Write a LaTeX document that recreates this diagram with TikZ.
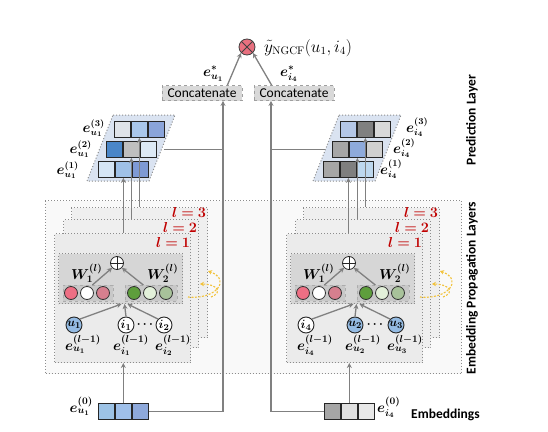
\documentclass[tikz,border=0pt]{standalone}
\usepackage{amsmath}
\usepackage{bm}
\usepackage[no-math]{fontspec}
\setmainfont{Carlito}
\usetikzlibrary{arrows.meta,calc}
\definecolor{cg}{HTML}{808080}
\definecolor{dotc}{HTML}{8C8C8C}
\definecolor{redc}{HTML}{E8707F}
\definecolor{lred}{HTML}{C00000}
\definecolor{parac}{HTML}{DAE3F1}
\definecolor{outerc}{HTML}{F9F9F9}
\definecolor{layc}{HTML}{EFEFEF}
\definecolor{lay1c}{HTML}{EBEBEB}
\definecolor{innc}{HTML}{D6D6D6}
\definecolor{grpc}{HTML}{C8C8C8}
\definecolor{cpink}{HTML}{EE6F84}
\definecolor{cmute}{HTML}{D67F8E}
\definecolor{cgreen}{HTML}{5E9E3C}
\definecolor{clgreen}{HTML}{E2F0D9}
\definecolor{cggreen}{HTML}{A8C29A}
\definecolor{ublue}{HTML}{94BBE3}
\definecolor{yel}{HTML}{F2C23A}
% cell colours
\definecolor{k1}{HTML}{DFE3E9}\definecolor{k2}{HTML}{A9C6EA}\definecolor{k3}{HTML}{8AA4DA}
\definecolor{k4}{HTML}{4A86C8}\definecolor{k5}{HTML}{BFBFBF}\definecolor{k6}{HTML}{DDE9F5}
\definecolor{k7}{HTML}{D5E5F5}\definecolor{k8}{HTML}{9FC1E8}\definecolor{k9}{HTML}{7E9AD5}
\definecolor{r1}{HTML}{B4C7E7}\definecolor{r2}{HTML}{808080}\definecolor{r3}{HTML}{D9D9D9}
\definecolor{r4}{HTML}{A6A6A6}\definecolor{r5}{HTML}{8EAADB}\definecolor{r6}{HTML}{D0D0D0}
\definecolor{r7}{HTML}{A6A6A6}\definecolor{r8}{HTML}{7F7F7F}\definecolor{r9}{HTML}{BDD7EE}
\definecolor{m1}{HTML}{9DC3E6}\definecolor{m2}{HTML}{9FC0EA}\definecolor{m3}{HTML}{8EA9DB}
\definecolor{n1}{HTML}{A6A6A6}\definecolor{n2}{HTML}{E0E0E0}\definecolor{n3}{HTML}{E8E8E8}
\newcommand\cellrow[6]{%
  \node[cell,fill=#4] (#1a) at (#2,#3) {};
  \node[cell,fill=#5,anchor=west] (#1b) at (#1a.east) {};
  \node[cell,fill=#6,anchor=west] (#1c) at (#1b.east) {};}
\begin{document}
\begin{tikzpicture}[x=1pt,y=-1pt,
  conn/.style={draw=cg,line width=1.3pt},
  arr/.style={conn,-{Stealth[length=5pt,width=5pt]}},
  yarr/.style={draw=yel,line width=1.1pt,dash pattern=on 2pt off 1.5pt,-{Stealth[length=4pt,width=4.5pt]}},
  cell/.style={draw=black!85,line width=0.9pt,minimum width=16pt,minimum height=16pt,inner sep=0,anchor=north west},
  mlab/.style={font=\fontsize{14}{16}\selectfont,inner sep=0},
  slab/.style={font=\fontsize{13.5}{15}\selectfont,inner sep=0},
  llab/.style={font=\fontsize{15}{17}\selectfont,inner sep=0,text=lred,anchor=base west},
  concat/.style={draw=gray!75,dashed,line width=0.8pt,fill=gray!30,font=\fontsize{13.5}{15}\selectfont,minimum width=80pt,minimum height=15pt,inner sep=1pt},
  dotbox/.style={draw=dotc,dotted,line width=1pt,anchor=north west,inner sep=0},
  grp/.style={draw=gray!65,dashed,line width=0.7pt,fill=grpc,anchor=north west,minimum width=#1,minimum height=16pt,inner sep=0},
  dot/.style={circle,draw=black!80,line width=0.8pt,minimum size=13pt,inner sep=0},
  gnode/.style={circle,draw=black!85,line width=0.9pt,minimum size=16pt,inner sep=0,font=\fontsize{12.5}{13}\selectfont},
  side/.style={font=\fontsize{13.5}{15}\selectfont\bfseries,inner sep=0}]
\useasboundingbox (0,0) rectangle (548,431);

% ---------- top ----------
\node[circle,draw=black!75,fill=redc,minimum size=16pt,inner sep=0,line width=0.8pt] (ot) at (247,47) {};
\draw[line width=0.8pt,black!75] (ot.north west) -- (ot.south east) (ot.north east) -- (ot.south west);
\node[font=\fontsize{16}{18}\selectfont,inner sep=0,anchor=base west] (ytxt) at (264,52) {$\tilde{y}_{\mathrm{NGCF}}(u_1,i_4)$};
\node[concat] (cL) at (202,93) {Concatenate};
\node[concat] (cR) at (294,93) {Concatenate};
\draw[arr] ($(cL.north east)+(-15,0)$) -- (ot.south west);
\draw[arr] ($(cR.north west)+(18,0)$) -- (ot.south east);
\node[mlab,anchor=base west] (esu) at (203,76) {$\bm{e^{*}_{u_1}}$};
\node[mlab,anchor=base west] (esi) at (280,76) {$\bm{e^{*}_{i_4}}$};
\coordinate (vL) at (223,0);
\coordinate (vR) at (271,0);

% ---------- prediction stacks ----------
\filldraw[fill=parac,draw=dotc,dotted,line width=1pt] (113,115) -- (175,115) -- (149,181) -- (87,181) -- cycle;
\filldraw[fill=parac,draw=dotc,dotted,line width=1pt] (339,115) -- (401,115) -- (375,181) -- (313,181) -- cycle;
\cellrow{pL3}{114}{121}{k1}{k2}{k3}
\cellrow{pL2}{106}{141}{k4}{k5}{k6}
\cellrow{pL1}{98}{161}{k7}{k8}{k9}
\cellrow{pR3}{340}{121}{r1}{r2}{r3}
\cellrow{pR2}{332}{141}{r4}{r5}{r6}
\cellrow{pR1}{323}{161}{r7}{r8}{r9}
\node[slab,anchor=base east] (eu3) at (105,132) {$\bm{e^{(3)}_{u_1}}$};
\node[slab,anchor=base east] (eu2) at (92,153) {$\bm{e^{(2)}_{u_1}}$};
\node[slab,anchor=base east] (eu1) at (79,174) {$\bm{e^{(1)}_{u_1}}$};
\node[slab,anchor=base west] (ei3) at (406,132) {$\bm{e^{(3)}_{i_4}}$};
\node[slab,anchor=base west] (ei2) at (393,153) {$\bm{e^{(2)}_{i_4}}$};
\node[slab,anchor=base west] (ei1) at (380,174) {$\bm{e^{(1)}_{i_4}}$};
\draw[conn] ($(pL2c.east)+(7,0)$) -- (pL2c.east -| vL);
\draw[conn] ($(pR2a.west)+(-7,0)$) -- (pR2a.west -| vR);

% ---------- propagation layers ----------
\node[dotbox,fill=outerc,minimum width=416pt,minimum height=173pt] (outer) at (45,200) {};
\foreach \s/\o in {L/0,R/232}{
  \node[dotbox,fill=layc,minimum width=136pt,minimum height=130pt] (l\s3) at (71+\o,207) {};
  \node[dotbox,fill=layc,minimum width=135pt,minimum height=128pt] (l\s2) at (63+\o,219) {};
  \node[dotbox,fill=lay1c,minimum width=136pt,minimum height=129pt] (l\s1) at (54+\o,233) {};
  \node[dotbox,fill=innc,minimum width=124pt,minimum height=50pt] (i\s) at (58+\o,253) {};
  \node[llab] (t\s3) at (172+\o,217) {$\bm{l=3}$};
  \node[llab] (t\s2) at (163+\o,232) {$\bm{l=2}$};
  \node[llab] (t\s1) at (156+\o,247) {$\bm{l=1}$};
  \node[circle,draw=black!85,fill=white,line width=0.8pt,minimum size=13pt,inner sep=0] (op\s) at (117+\o,263) {};
  \draw[line width=0.8pt,black!85] (op\s.north) -- (op\s.south) (op\s.west) -- (op\s.east);
  \node[mlab,anchor=base west] (w1\s) at (71+\o,279) {$\bm{W^{(l)}_1}$};
  \node[mlab,anchor=base west] (w2\s) at (147+\o,279) {$\bm{W^{(l)}_2}$};
  \node[grp=50pt] (ga\s) at (63+\o,285) {};
  \node[grp=52pt] (gb\s) at (125+\o,285) {};
  \node[dot,fill=cpink] (da1\s) at (71+\o,293) {};
  \node[dot,fill=white] (da2\s) at (87+\o,293) {};
  \node[dot,fill=cmute] (da3\s) at (103+\o,293) {};
  \node[dot,fill=cgreen] (db1\s) at (134+\o,293) {};
  \node[dot,fill=clgreen] (db2\s) at (150+\o,293) {};
  \node[dot,fill=cggreen] (db3\s) at (166+\o,293) {};
  \draw[arr] ($(ga\s.north)+(4,0)$) -- (op\s.south west);
  \draw[arr] ($(gb\s.north)+(-8,0)$) -- (op\s.south east);
  \draw[yarr] (188+\o,297) .. controls (215+\o,300) and (232+\o,280) .. (208+\o,271);
  \draw[yarr] (211+\o,297) .. controls (224+\o,292) and (216+\o,284) .. (200+\o,284);
}
% left nodes
\node[gnode,fill=ublue] (nu1) at (74,325) {$\bm{u_1}$};
\node[gnode,fill=white] (ni1) at (126,325) {$\bm{i_1}$};
\node[inner sep=0,font=\fontsize{12}{12}\selectfont] (ddL) at (146,325) {$\bm{\cdots}$};
\node[gnode,fill=white] (ni2) at (164,325) {$\bm{i_2}$};
\draw[arr] (nu1.north east) -- ($(iL.south)+(1,0)$);
\draw[arr] (ni1.north) -- ($(iL.south)+(4,0)$);
\draw[arr] (ni2.north west) -- ($(iL.south)+(7,0)$);
\node[mlab,anchor=base west] (xu1) at (65,350) {$\bm{e^{(l-1)}_{u_1}}$};
\node[mlab,anchor=base west] (xi1) at (113,350) {$\bm{e^{(l-1)}_{i_1}}$};
\node[mlab,anchor=base west] (xi2) at (155,350) {$\bm{e^{(l-1)}_{i_2}}$};
% right nodes
\node[gnode,fill=white] (ni4) at (306,325) {$\bm{i_4}$};
\node[gnode,fill=ublue] (nu2) at (355,325) {$\bm{u_2}$};
\node[inner sep=0,font=\fontsize{12}{12}\selectfont] (ddR) at (376,325) {$\bm{\cdots}$};
\node[gnode,fill=ublue] (nu3) at (396,325) {$\bm{u_3}$};
\draw[arr] (ni4.north east) -- ($(iR.south)+(1,0)$);
\draw[arr] (nu2.north) -- ($(iR.south)+(4,0)$);
\draw[arr] (nu3.north west) -- ($(iR.south)+(7,0)$);
\node[mlab,anchor=base west] (xi4) at (297,350) {$\bm{e^{(l-1)}_{i_4}}$};
\node[mlab,anchor=base west] (xu2) at (345,350) {$\bm{e^{(l-1)}_{u_2}}$};
\node[mlab,anchor=base west] (xu3) at (387,350) {$\bm{e^{(l-1)}_{u_3}}$};

% layer outputs to prediction rows
\draw[arr] (pL1b.south |- lL1.north) -- (pL1b.south);
\draw[arr] (pL2b.south |- lL2.north) -- (pL2b.south);
\draw[arr] (pL3b.south |- lL3.north) -- (pL3b.south);
\draw[arr] (pR1b.south |- lR1.north) -- (pR1b.south);
\draw[arr] (pR2b.south |- lR2.north) -- (pR2b.south);
\draw[arr] (pR3b.south |- lR3.north) -- (pR3b.south);

% ---------- embeddings ----------
\cellrow{eL}{98}{403}{m1}{m2}{m3}
\cellrow{eR}{324}{403}{n1}{n2}{n3}
\node[mlab,anchor=base east] (e0u) at (93,412) {$\bm{e^{(0)}_{u_1}}$};
\node[mlab,anchor=base west] (e0i) at (377,412) {$\bm{e^{(0)}_{i_4}}$};
\draw[arr] (eLb.north) -- (eLb.north |- lL1.south);
\draw[arr] (eRb.north) -- (eRb.north |- lR1.south);
\draw[arr] (eLc.east) -| (cL.south -| vL);
\draw[arr] (eRa.west) -| (cR.south -| vR);

% ---------- side labels ----------
\node[side,rotate=90] (pred) at (472,120) {Prediction Layer};
\node[side,rotate=90] (epl) at (472,288) {Embedding Propagation Layers};
\node[side,anchor=base west] (emb) at (411,418) {Embeddings};
\end{tikzpicture}
\end{document}
